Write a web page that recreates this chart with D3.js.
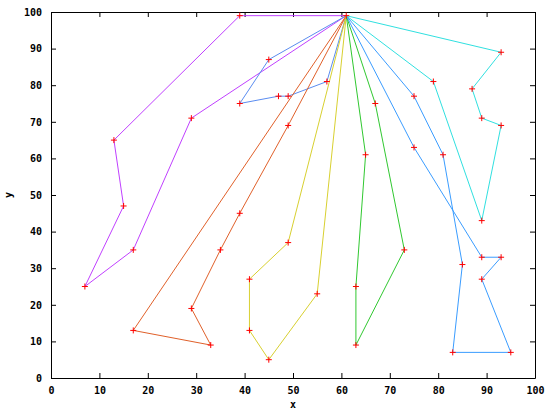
<!DOCTYPE html><html><head><meta charset="utf-8"><script src="https://cdn.jsdelivr.net/npm/d3@7"></script>
<style>body{margin:0;background:#fff}text{font-family:"DejaVu Sans Mono",monospace;font-weight:bold;font-size:10px}</style></head><body><svg id="c" width="550" height="417"></svg><script>
const depot=[61,99];
const routeMagenta=[[39,99],[13,65],[15,47],[7,25],[17,35],[29,71]];
const routeBlue1=[[57,81],[49,77],[47,77],[39,75],[45,87]];
const routeOrange=[[49,69],[39,45],[35,35],[29,19],[33,9],[17,13]];
const routeYellow=[[55,23],[45,5],[41,13],[41,27],[49,37]];
const routeGreen=[[65,61],[63,25],[63,9],[73,35],[67,75]];
const routeBlue2=[[75,77],[81,61],[85,31],[83,7],[95,7],[89,27],[93,33],[89,33],[75,63]];
const routeCyan=[[93,89],[87,79],[89,71],[93,69],[89,43],[79,81]];
const routes=[routeMagenta,routeBlue1,routeOrange,routeYellow,routeGreen,routeBlue2,routeCyan];
const colors=["#c040ff","#5a8cf0","#e0602a","#d8d030","#30c830","#3a9cff","#30e0e0"];
const ticks=[0,10,20,30,40,50,60,70,80,90,100];
const svg=d3.select("#c");
const x=d3.scaleLinear().domain([0,100]).range([51,535]);
const y=d3.scaleLinear().domain([0,100]).range([378,12]);
svg.append("g").attr("transform","translate(0,378)").call(d3.axisBottom(x).tickValues(ticks).tickSizeInner(-5).tickSizeOuter(0).tickPadding(9));
svg.append("g").attr("transform","translate(0,12)").call(d3.axisTop(x).tickValues(ticks).tickSizeInner(-5).tickSizeOuter(0).tickFormat(""));
svg.append("g").attr("transform","translate(51,0)").call(d3.axisLeft(y).tickValues(ticks).tickSizeInner(-5).tickSizeOuter(0).tickPadding(9));
svg.append("g").attr("transform","translate(535,0)").call(d3.axisRight(y).tickValues(ticks).tickSizeInner(-5).tickSizeOuter(0).tickFormat(""));
svg.selectAll(".domain").attr("stroke","#000");
svg.selectAll(".tick text").attr("fill","#000");
const line=d3.line().x(d=>x(d[0])).y(d=>y(d[1]));
routes.forEach((r,i)=>{
 const pts=[depot,...r,depot];
 svg.append("path").attr("d",line(pts)).attr("fill","none").attr("stroke",colors[i]).attr("stroke-width",1);
});
const all=[depot,...routes.flat()];
svg.selectAll(".m").data(all).enter().append("path").attr("d",d=>`M${x(d[0])-3},${y(d[1])}h6M${x(d[0])},${y(d[1])-3}v6`).attr("stroke","#f00").attr("stroke-width",1);
svg.append("text").attr("x",293).attr("y",408).attr("text-anchor","middle").text("x");
svg.append("text").attr("transform","translate(12,195) rotate(-90)").attr("text-anchor","middle").text("y");
</script></body></html>
